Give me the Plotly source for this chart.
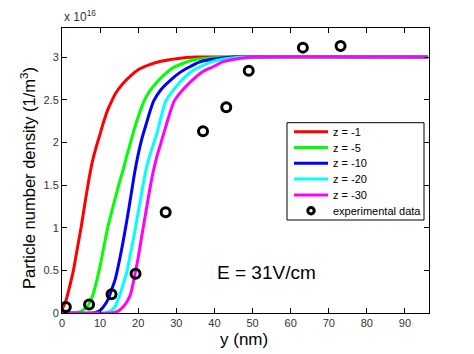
import plotly.graph_objects as go

# ---- data (values in units of 1e16 m^-3) ----
x_red = [0, 1, 2, 3, 4, 5, 6, 7, 8, 9, 10, 11, 12, 13, 14, 16, 18, 20, 23, 26, 30, 35, 40, 96]
y_red = [0.04, 0.14, 0.31, 0.5, 0.75, 1.0, 1.28, 1.55, 1.78, 1.95, 2.1, 2.25, 2.38, 2.48, 2.57,
         2.69, 2.78, 2.85, 2.91, 2.95, 2.98, 3.0, 3.0, 3.0]

x_green = [0, 4, 5, 6, 7, 8, 9, 10, 11, 12, 13, 14, 15, 16, 17, 18, 19, 20, 21.5, 23, 25, 27,
           29, 32, 35, 40, 45, 96]
y_green = [0.0, 0.01, 0.02, 0.05, 0.1, 0.2, 0.36, 0.55, 0.78, 1.0, 1.18, 1.35, 1.52, 1.67, 1.84,
           2.0, 2.16, 2.3, 2.48, 2.6, 2.71, 2.8, 2.87, 2.93, 2.97, 2.99, 3.0, 3.0]

x_blue = [0, 8, 9, 10, 11, 12, 13, 14, 15, 16, 17, 18, 19, 20, 21, 22, 23, 24, 26, 28.5, 31,
          33.3, 36, 39, 45, 96]
y_blue = [0.0, 0.0, 0.01, 0.03, 0.08, 0.15, 0.27, 0.4, 0.6, 0.83, 1.08, 1.35, 1.63, 1.86, 2.05,
          2.2, 2.35, 2.48, 2.62, 2.73, 2.82, 2.88, 2.94, 2.97, 3.0, 3.0]

x_cyan = [0, 11, 12, 13, 14, 15, 16, 17, 18, 19, 20, 21, 22, 23, 24, 25, 26, 27.2, 29, 31.5,
          34, 36, 39, 43, 48, 96]
y_cyan = [0.0, 0.0, 0.01, 0.03, 0.08, 0.19, 0.33, 0.48, 0.7, 0.93, 1.18, 1.43, 1.67, 1.84, 1.98,
          2.12, 2.3, 2.48, 2.6, 2.73, 2.83, 2.88, 2.94, 2.98, 3.0, 3.0]

x_mag = [0, 13, 14, 15, 16, 17, 18, 19, 20, 21, 22, 23, 24, 25, 26, 27, 28, 29.4, 31, 34, 37,
         39.4, 42, 46, 50, 96]
y_mag = [0.0, 0.0, 0.01, 0.03, 0.07, 0.13, 0.22, 0.42, 0.65, 0.92, 1.18, 1.44, 1.67, 1.85, 2.0,
         2.15, 2.3, 2.48, 2.58, 2.72, 2.83, 2.88, 2.94, 2.98, 3.0, 3.0]

x_exp = [1.0, 7.1, 13.0, 19.3, 27.2, 37.0, 43.1, 49.0, 63.2, 73.1]
y_exp = [0.07, 0.10, 0.22, 0.46, 1.18, 2.13, 2.41, 2.84, 3.11, 3.13]

series_names = ["z = -1", "z = -5", "z = -10", "z = -20", "z = -30"]
series_colors = ["#ff0000", "#00ff00", "#0000ff", "#00ffff", "#ff00ff"]
exp_name = "experimental data"

x_ticks = [0, 10, 20, 30, 40, 50, 60, 70, 80, 90]
y_ticks = [0, 0.5, 1, 1.5, 2, 2.5, 3]
y_tick_labels = ["0", "0.5", "1", "1.5", "2", "2.5", "3"]

FONT = "Liberation Sans, Arial, Helvetica, sans-serif"

# plot-area geometry in pixels (for paper-coordinate decorations)
W, H = 474, 354
L, R, T, B = 62, 45, 28, 41
PW, PH = W - L - R, H - T - B


def px(xp):
    return (xp - L) / PW


def py(yp):
    return (H - B - yp) / PH


fig = go.Figure()
series = [(x_red, y_red), (x_green, y_green), (x_blue, y_blue), (x_cyan, y_cyan), (x_mag, y_mag)]
for (xs, ys), col, name in zip(series, series_colors, series_names):
    fig.add_trace(go.Scatter(x=xs, y=ys, mode="lines", name=name, showlegend=False,
                             line=dict(color=col, width=3, shape="spline", smoothing=0.5)))

fig.add_trace(go.Scatter(x=x_exp, y=y_exp, mode="markers", name=exp_name, showlegend=False,
                         marker=dict(symbol="circle-open", size=9, color="black",
                                     line=dict(color="black", width=3))))

axis_common = dict(showline=True, linecolor="black", linewidth=1, mirror="ticks",
                   ticks="inside", ticklen=5, tickcolor="black", showgrid=False,
                   zeroline=False, tickfont=dict(family=FONT, size=11, color="#333333"))

# ---- legend box (MATLAB style, drawn in paper coordinates) ----
shapes = [dict(type="rect", xref="paper", yref="paper",
               x0=px(287), x1=px(424), y0=py(220), y1=py(122.7),
               line=dict(color="black", width=1), fillcolor="white", layer="above")]
annotations = []
row_y = [131.7, 147.5, 163.3, 179.1, 194.9, 210.7]
for i, (col, name) in enumerate(zip(series_colors, series_names)):
    shapes.append(dict(type="line", xref="paper", yref="paper",
                       x0=px(294), x1=px(328), y0=py(row_y[i]), y1=py(row_y[i]),
                       line=dict(color=col, width=3), layer="above"))
    annotations.append(dict(text=name, x=px(331), y=py(row_y[i]), xref="paper", yref="paper",
                            showarrow=False, xanchor="left", yanchor="middle",
                            font=dict(family=FONT, size=11, color="black")))
r = 3.2
shapes.append(dict(type="circle", xref="paper", yref="paper",
                   x0=px(311 - r), x1=px(311 + r), y0=py(row_y[5] + r), y1=py(row_y[5] - r),
                   line=dict(color="black", width=3), layer="above"))
annotations.append(dict(text=exp_name, x=px(331), y=py(row_y[5]), xref="paper", yref="paper",
                        showarrow=False, xanchor="left", yanchor="middle",
                        font=dict(family=FONT, size=11, color="black")))

annotations += [
    dict(text="x 10<sup>16</sup>", x=0.0, y=py(16), xref="paper", yref="paper",
         showarrow=False, xanchor="left", yanchor="middle",
         font=dict(family=FONT, size=12, color="#333333")),
    dict(text="E = 31V/cm", x=px(266), y=py(272), xref="paper", yref="paper",
         showarrow=False, xanchor="center", yanchor="middle",
         font=dict(family=FONT, size=19, color="black")),
    dict(text="y (nm)", x=px(244), y=py(339), xref="paper", yref="paper",
         showarrow=False, xanchor="center", yanchor="middle",
         font=dict(family=FONT, size=17, color="black")),
    dict(text="Particle number density (1/m<sup>3</sup>)", x=px(28), y=py(178),
         xref="paper", yref="paper", textangle=-90,
         showarrow=False, xanchor="center", yanchor="middle",
         font=dict(family=FONT, size=16.5, color="black")),
]

fig.update_layout(
    width=W, height=H,
    margin=dict(l=L, r=R, t=T, b=B),
    paper_bgcolor="white", plot_bgcolor="white",
    font=dict(family=FONT, color="black"),
    xaxis=dict(range=[0, 96.3], tickvals=x_ticks, **axis_common),
    yaxis=dict(range=[0, 3.34], tickvals=y_ticks, ticktext=y_tick_labels, **axis_common),
    showlegend=False,
    shapes=shapes,
    annotations=annotations,
)

fig.write_html("out.html")
